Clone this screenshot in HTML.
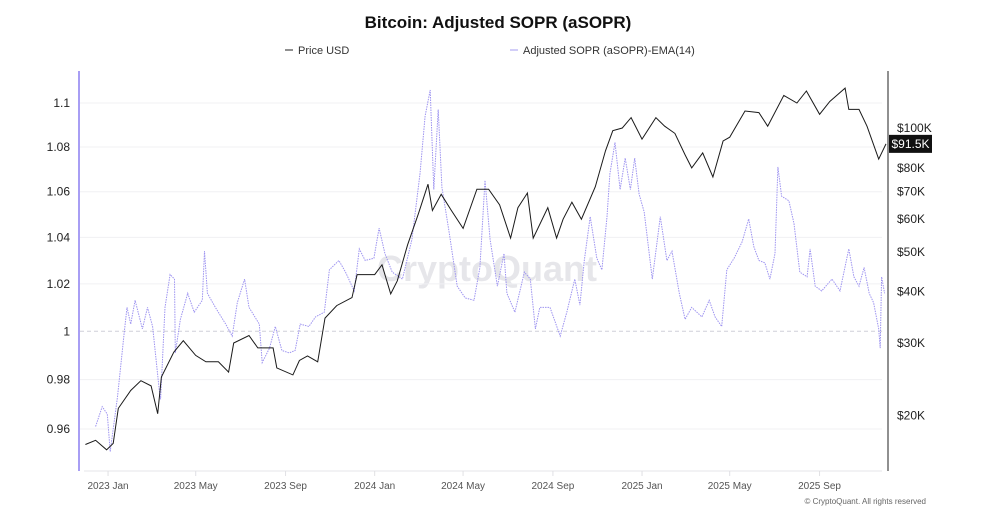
<!DOCTYPE html>
<html><head><meta charset="utf-8">
<style>
html,body{margin:0;padding:0;background:#fff;}
body{width:996px;height:507px;overflow:hidden;font-family:"Liberation Sans",sans-serif;}
svg{display:block}
</style></head>
<body>
<svg id="chart" width="996" height="507" viewBox="0 0 996 507">
  <text x="498" y="28" text-anchor="middle" font-size="17" font-weight="bold" fill="#111">Bitcoin: Adjusted SOPR (aSOPR)</text>
  <g>
    <line x1="285" y1="50" x2="293" y2="50" stroke="#222" stroke-width="1"/>
    <text x="298" y="54" font-size="11" fill="#333">Price USD</text>
  </g>
  <g>
    <line x1="510" y1="50" x2="518" y2="50" stroke="#a59cf0" stroke-width="1"/>
    <text x="523" y="54" font-size="11" fill="#333">Adjusted SOPR (aSOPR)-EMA(14)</text>
  </g>
  <text x="487" y="281" text-anchor="middle" font-size="36" font-weight="bold" fill="#e6e6ea">CryptoQuant</text>
  <g id="grid"></g>
  <g id="xaxis"></g>
  <g id="yleft"></g>
  <g id="yright"></g>
  <g id="series"></g>
  <line x1="79" y1="71" x2="79" y2="471" stroke="#8b7ff0" stroke-width="1.5"/>
  <line x1="888" y1="71" x2="888" y2="471" stroke="#222" stroke-width="1"/>
  <g id="badge"></g>
  <text x="926" y="504" text-anchor="end" font-size="8" fill="#666">© CryptoQuant. All rights reserved</text>
</svg>
<script>
const priceDates = ["2022-12-01","2022-12-15","2022-12-30","2023-01-08","2023-01-15","2023-02-01","2023-02-15","2023-03-01","2023-03-10","2023-03-15","2023-04-01","2023-04-14","2023-05-01","2023-05-15","2023-06-01","2023-06-15","2023-06-22","2023-07-13","2023-07-25","2023-08-15","2023-08-20","2023-09-11","2023-09-20","2023-10-01","2023-10-15","2023-10-25","2023-11-10","2023-12-01","2023-12-08","2024-01-01","2024-01-11","2024-01-23","2024-02-01","2024-02-15","2024-03-01","2024-03-14","2024-03-20","2024-04-01","2024-04-15","2024-05-01","2024-05-20","2024-06-05","2024-06-20","2024-07-05","2024-07-15","2024-07-28","2024-08-05","2024-08-25","2024-09-06","2024-09-15","2024-09-27","2024-10-10","2024-10-29","2024-11-12","2024-11-22","2024-12-05","2024-12-17","2025-01-01","2025-01-20","2025-02-01","2025-02-15","2025-03-01","2025-03-10","2025-03-25","2025-04-08","2025-04-22","2025-05-01","2025-05-22","2025-06-10","2025-06-22","2025-07-14","2025-08-01","2025-08-14","2025-09-01","2025-09-15","2025-10-06","2025-10-11","2025-10-25","2025-11-05","2025-11-21","2025-12-01"];
const priceValues = [17000,17400,16500,17100,20800,23000,24300,23600,20200,24800,28500,30400,28000,27000,27000,25500,30000,31300,29200,29200,26100,25100,27200,27900,27000,34500,37000,38700,44000,44000,46500,39500,42500,52000,62000,73000,63000,69000,63000,57000,71000,71000,65000,54000,64000,69500,54000,64000,54000,60000,66000,60000,72000,88000,98500,100000,106000,94000,106000,101000,97000,86000,80000,87000,76000,93000,95000,110000,109000,101000,120000,115000,123000,108000,116000,125000,111000,111000,101000,84000,91500];
// aSOPR: day offsets from 2022-12-01
const asoprDays = [14,23,30,34,44,53,57,62,68,78,85,92,101,103,109,116,122,123,130,140,149,160,163,167,178,192,201,208,218,224,238,242,252,260,269,279,287,294,306,315,327,334,347,356,368,375,383,395,402,410,420,434,447,458,465,472,477,483,488,498,509,520,532,540,547,554,564,573,577,588,601,609,616,622,636,650,659,670,677,683,691,700,707,714,718,725,732,739,746,752,758,765,776,787,796,803,813,821,830,844,854,862,871,878,888,899,908,915,922,930,937,944,948,953,963,970,978,988,992,999,1008,1022,1033,1045,1052,1059,1066,1073,1079,1086,1088,1090,1094];
const asoprValues = [0.961,0.969,0.966,0.951,0.973,0.999,1.010,1.003,1.013,1.001,1.010,1.002,0.976,0.972,1.010,1.024,1.022,0.991,1.005,1.016,1.008,1.013,1.034,1.016,1.010,1.003,0.998,1.012,1.022,1.010,1.003,0.987,0.993,1.002,0.992,0.991,0.992,1.003,1.002,1.006,1.008,1.026,1.030,1.025,1.017,1.035,1.030,1.031,1.044,1.033,1.025,1.022,1.039,1.068,1.094,1.106,1.061,1.097,1.062,1.042,1.019,1.014,1.013,1.027,1.065,1.039,1.019,1.033,1.016,1.008,1.025,1.022,1.001,1.010,1.010,0.998,1.008,1.022,1.011,1.030,1.049,1.031,1.026,1.049,1.068,1.082,1.061,1.075,1.061,1.075,1.059,1.051,1.022,1.049,1.030,1.034,1.016,1.005,1.010,1.006,1.013,1.006,1.002,1.026,1.031,1.038,1.048,1.036,1.030,1.029,1.022,1.033,1.071,1.058,1.056,1.046,1.025,1.023,1.035,1.019,1.017,1.022,1.017,1.035,1.023,1.019,1.027,1.016,1.012,1.001,0.993,1.023,1.016];
const leftTicks = [0.96,0.98,1,1.02,1.04,1.06,1.08,1.1];
const leftTickLabels = ["0.96","0.98","1","1.02","1.04","1.06","1.08","1.1"];
const rightTicks = [20000,30000,40000,50000,60000,70000,80000,100000];
const rightTickLabels = ["$20K","$30K","$40K","$50K","$60K","$70K","$80K","$100K"];
const xTickDates = ["2023-01-01","2023-05-01","2023-09-01","2024-01-01","2024-05-01","2024-09-01","2025-01-01","2025-05-01","2025-09-01"];
const xTickLabels = ["2023 Jan","2023 May","2023 Sep","2024 Jan","2024 May","2024 Sep","2025 Jan","2025 May","2025 Sep"];
const lastPriceLabel = "$91.5K";

const NS = "http://www.w3.org/2000/svg";
const T0 = Date.UTC(2022,11,1);
function dayOf(s){const p=s.split("-");return (Date.UTC(+p[0],+p[1]-1,+p[2])-T0)/86400000;}
function xDay(d){return 85.4 + d*0.7305;}
function yLeft(v){return 103 + Math.log(1.1/v)*2395;}
function yRight(p){return 128 + Math.log(100000/p)*178.6;}
function mk(tag, attrs, parent){const e=document.createElementNS(NS,tag);for(const k in attrs)e.setAttribute(k,attrs[k]);parent.appendChild(e);return e;}

const grid=document.getElementById("grid"), xa=document.getElementById("xaxis"), yl=document.getElementById("yleft"), yr=document.getElementById("yright"), ser=document.getElementById("series"), badge=document.getElementById("badge");

leftTicks.forEach((v,i)=>{
  const y=yLeft(v);
  const g=mk("line",{x1:80,x2:882,y1:y,y2:y,stroke:v===1?"#cfcfd8":"#f0f0f3","stroke-width":1,"stroke-dasharray":v===1?"4,3":"none"},grid);
  
  
  const t=mk("text",{x:70,y:y+4,"text-anchor":"end","font-size":12,fill:"#222"},yl);
  t.textContent=leftTickLabels[i];
  
  
});
rightTicks.forEach((p,i)=>{
  const t=mk("text",{x:897,y:yRight(p)+4,"font-size":12,fill:"#222"},yr);
  t.textContent=rightTickLabels[i];
  
  
});
const ax=mk("line",{x1:84,x2:882,y1:471,y2:471,stroke:"#e4e4e8","stroke-width":1},xa);


xTickDates.forEach((d,i)=>{
  const x=xDay(dayOf(d));
  const tk=mk("line",{x1:x,x2:x,y1:471,y2:476,stroke:"#e0e0e4","stroke-width":1},xa);
  
  
  const t=mk("text",{x:x,y:489,"text-anchor":"middle","font-size":10,fill:"#555"},xa);
  t.textContent=xTickLabels[i];
  
  
});

let ad="";
asoprDays.forEach((d,i)=>{ad+=(i?"L":"M")+xDay(d).toFixed(1)+","+yLeft(asoprValues[i]).toFixed(1);});
const ap=mk("path",{d:ad,fill:"none",stroke:"#9d93f0","stroke-width":1,"stroke-dasharray":"1.5,1"},ser);



let pd="";
priceDates.forEach((d,i)=>{pd+=(i?"L":"M")+xDay(dayOf(d)).toFixed(1)+","+yRight(priceValues[i]).toFixed(1);});
const pp=mk("path",{d:pd,fill:"none",stroke:"#1a1a1a","stroke-width":1},ser);



const ly=yRight(priceValues[priceValues.length-1]);
const br=mk("rect",{x:889,y:ly-9,width:43,height:18,fill:"#111"},badge);


const bt=mk("text",{x:910.5,y:ly+4,"text-anchor":"middle","font-size":12,fill:"#fff"},badge);
bt.textContent=lastPriceLabel;


</script>
</body></html>
